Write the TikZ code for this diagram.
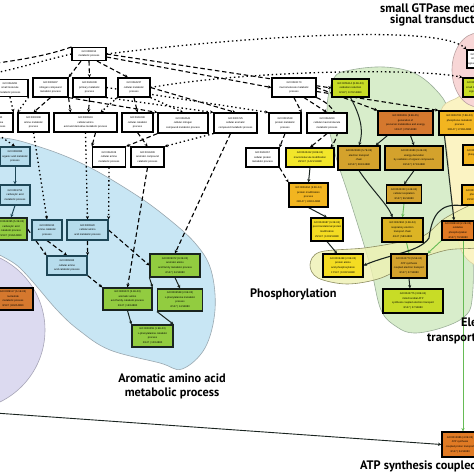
\documentclass[tikz,border=0pt]{standalone}
\usepackage{fontspec}
\setmainfont{Liberation Sans}
\newfontfamily\labfont{PT Sans}
\usetikzlibrary{arrows.meta}
\definecolor{bluebg}{HTML}{C8E6F4}
\definecolor{blueedge}{HTML}{9AA8B0}
\definecolor{bluebox}{HTML}{B6DCEC}
\definecolor{greenbg}{HTML}{D8EDCB}
\definecolor{greenedge}{HTML}{9AAE98}
\definecolor{pinkbg}{HTML}{F8D6D6}
\definecolor{pinkedge}{HTML}{B8A0A0}
\definecolor{yelbg}{HTML}{FBF3C3}
\definecolor{yeledge}{HTML}{D8D0A0}
\definecolor{bandbg}{HTML}{EEF1B2}
\definecolor{bandedge}{HTML}{8C8C60}
\definecolor{purbg}{HTML}{DCDAF0}
\definecolor{puredge}{HTML}{A8A6B8}
\definecolor{cgreen}{HTML}{92CC40}
\definecolor{cyellow}{HTML}{F2E62A}
\definecolor{cyel2}{HTML}{F4DC22}
\definecolor{corange}{HTML}{F2B520}
\definecolor{cbrown}{HTML}{D5782E}
\definecolor{cochre}{HTML}{D4A22C}
\definecolor{cochre2}{HTML}{DCB424}
\definecolor{cyg}{HTML}{C8DC26}
\definecolor{cdeep}{HTML}{E07A24}
\definecolor{tealc}{HTML}{1E4656}
\definecolor{lgreen}{HTML}{66BB55}
\definecolor{darkc}{HTML}{1A2420}
\newcommand*\bxf{\fontsize{2.6}{4.6}\selectfont}
\pgfdeclarelayer{bg}\pgfdeclarelayer{edges}\pgfsetlayers{bg,edges,main}
\tikzset{
  gob/.style={draw=black, line width=1.15pt, fill=white, align=center, inner sep=0.3pt, font=\bxf},
  bbox/.style={gob, draw=tealc, fill=bluebox},
  gbox/.style={gob, draw=darkc, fill=cgreen},
  sz/.style n args={2}{minimum width=#1pt, minimum height=#2pt},
  tip/.style={-{Stealth[length=3.4pt,width=3.2pt]}},
  dsh/.style={draw=black, line width=1.1pt, dash pattern=on 4.5pt off 2.8pt, tip},
  dot/.style={draw=black, line width=1.3pt, dash pattern=on 1.4pt off 2.8pt, tip},
  sol/.style={draw=darkc, line width=1pt, tip},
  grn/.style={draw=lgreen, line width=0.9pt, tip},
  lab/.style={font=\labfont\bfseries\fontsize{12.3}{13.5}\selectfont, inner sep=0pt, align=center}
}
\begin{document}
\begin{tikzpicture}[x=1pt,y=-1pt]
\useasboundingbox (0,0) rectangle (474,474);
\clip (0,0) rectangle (474,474);
% ---------- blobs ----------
\begin{pgfonlayer}{bg}
\fill[white] (0,0) rectangle (474,474);
\filldraw[fill=purbg, draw=puredge, line width=0.6pt] (-35,330) circle [radius=80pt];
\filldraw[fill=bluebg, draw=blueedge, line width=0.6pt] plot[smooth cycle, tension=0.6] coordinates {(-30,150) (0,138) (43,148) (87,166) (133,193) (165,216) (195,243) (211,270) (215,310) (205,348) (182,369) (160,363) (110,350) (80,331) (57,310) (20,268) (-20,235)};
\filldraw[fill=greenbg, draw=greenedge, line width=0.6pt] plot[smooth cycle, tension=0.6] coordinates {(334,150) (327,110) (334,78) (351,70) (384,67) (414,73) (436,90) (448,110) (452,150) (458,200) (472,250) (472,300) (464,317) (441,328) (414,333) (397,327) (381,310) (370,265) (350,200)};
\filldraw[fill=yelbg, draw=yeledge, line width=0.6pt] plot[smooth cycle, tension=0.6] coordinates {(441,112) (455,99) (485,94) (495,200) (485,262) (462,252) (452,200) (447,150)};
\filldraw[fill=pinkbg, draw=pinkedge, line width=0.6pt] (478,70) ellipse [x radius=26pt, y radius=37pt];
\filldraw[fill=bandbg, fill opacity=0.8, draw=bandedge, line width=0.6pt] plot[smooth cycle, tension=0.55] coordinates {(310,265) (320,252) (364,248) (400,242) (425,235) (447,217) (485,201) (490,225) (485,246) (447,250) (414,261) (381,278) (347,284) (318,278)};
\end{pgfonlayer}
% ---------- nodes ----------
\node[gob,sz={34}{13}] (m1) at (89,54) {GO:0008152\\metabolic process};
\node[gob,sz={36}{17}] (a1) at (10,88) {GO:0044281\\small molecule\\metabolic process};
\node[gob,sz={35}{19}] (a2) at (50.5,87.5) {GO:0006807\\nitrogen compound\\metabolic process};
\node[gob,sz={33}{19}] (a3) at (89.5,87.5) {GO:0044238\\primary metabolic\\process};
\node[gob,sz={32}{19}] (a4) at (134,87.5) {GO:0044237\\cellular metabolic\\process};
\node[gob,sz={44}{19}] (a5) at (294,87.5) {GO:0043170\\macromolecule metabolic\\process};
\node[gob,fill=cyg,sz={37}{18}] (ox) at (350.5,88) {GO:0055114 (8.0E-03)\\oxidation reduction\\8/147 | 1170/14880};
\node[gob,fill=cbrown,sz={55}{24}] (gen) at (405.5,123) {GO:0006091 (6.9E-05)\\generation of\\precursor metabolites and energy\\10/147 | 378/14880};
\node[gob,fill=corange,sz={41}{24}] (pho) at (459.5,123) {GO:0006793 (7.8E-03)\\phosphorus metabolic\\process\\30/147 | 1736/14880};
\node[gob,fill=cyg,sz={34}{19}] (tr) at (480,87.5) {GO:0007264 (4.2E-03)\\small GTPase mediated\\signal transduction};
\node[gob,sz={22}{18}] (tw) at (478,59) {GO:0007242\\intracellular\\signaling cascade};
% row 2
\node[gob,sz={36}{19}] (b0) at (-5,122.5) {GO:0042180\\cellular ketone\\metabolic process};
\node[gob,sz={31}{19}] (b1) at (33.5,122.5) {GO:0009308\\amine metabolic\\process};
\node[gob,sz={63}{19}] (b2) at (85.5,122.5) {GO:0006519\\cellular amino\\acid and derivative metabolic process};
\node[gob,sz={31}{19}] (b3) at (137.5,122.5) {GO:0044248\\cellular catabolic\\process};
\node[gob,sz={50}{20}] (b4) at (183,123) {GO:0034641\\cellular nitrogen\\compound metabolic process};
\node[gob,sz={43}{20}] (b5) at (235.5,123) {GO:0006725\\cellular aromatic\\compound metabolic process};
\node[gob,sz={32}{20}] (b6) at (285,123) {GO:0019538\\protein metabolic\\process};
\node[gob,sz={40}{20}] (b7) at (327,123) {GO:0044260\\cellular macromolecule\\metabolic process};
% row 3
\node[bbox,sz={30}{19}] (c0) at (15,156.5) {GO:0006082\\organic acid metabolic\\process};
\node[gob,sz={33}{20}] (c1) at (109,157) {GO:0044106\\cellular amine\\metabolic process};
\node[gob,sz={33}{20}] (c2) at (147.5,157) {GO:0019439\\aromatic compound\\catabolic process};
\node[gob,sz={33}{19}] (c3) at (262.5,157.5) {GO:0044267\\cellular protein\\metabolic process};
\node[gob,fill=cyellow,sz={48}{19}] (c4) at (310,157.5) {GO:0043412 (8.8E-04)\\macromolecule modification\\28/147 | 1421/14880};
\node[gob,fill=cochre,sz={42}{24}] (c5) at (359,158) {GO:0022900 (5.7E-06)\\electron transport\\chain\\12/147 | 381/14880};
\node[gob,fill=cochre,sz={58}{24}] (c6) at (414,158) {GO:0015980 (9.4E-05)\\energy derivation\\by oxidation of organic compounds\\10/147 | 371/14880};
\node[gob,fill=corange,sz={34}{20}] (c7) at (480,155) {GO:0006796 (9.1E-03)\\phosphate metabolic\\process};
% row 4
\node[bbox,sz={30}{20}] (d0) at (15,195) {GO:0019752\\carboxylic acid\\metabolic process};
\node[gob,fill=corange,sz={39}{24}] (d1) at (308.5,195) {GO:0006464 (6.5E-04)\\protein modification\\process\\28/147 | 1381/14880};
\node[gob,fill=cochre,sz={35}{18}] (d2) at (404,194) {GO:0045333 (4.4E-04)\\cellular respiration\\3/147 | 96/14880};
\node[gob,fill=corange,sz={34}{20}] (d3) at (479,195) {GO:0016310 (8.0E-03)\\phosphorylation\\22/147 | 1247/14880};
% row 5
\node[gob,fill=cdeep,sz={32}{19}] (e0) at (458,230.5) {GO:0006119 (2.2E-03)\\oxidative\\phosphorylation\\4/147 | 79/14880};
\node[gob,fill=cyel2,sz={32}{23}] (e1) at (327,229.5) {GO:0043687 (6.3E-04)\\post-translational protein\\modification\\25/147 | 1203/14880};
\node[gob,fill=cochre2,sz={41}{24}] (e2) at (402.5,230) {GO:0022904 (1.3E-04)\\respiratory electron\\transport chain\\4/147 | 58/14880};
% row 6
\node[gob,fill=cyel2,sz={40}{23}] (f1) at (343,265.5) {GO:0006468 (2.9E-03)\\protein amino\\acid phosphorylation\\17/147 | 1030/14880};
\node[gob,fill=cochre,sz={36}{24}] (f2) at (409,266) {GO:0042773 (5.5E-04)\\ATP synthesis\\coupled electron transport\\3/147 | 37/14880};
% row 7
\node[gob,fill=cyg,sz={60}{24}] (g1) at (413,301) {GO:0042775 (3.8E-04)\\mitochondrial ATP\\synthesis coupled electron transport\\3/147 | 37/14880};
\node[gob,fill=cdeep,sz={36}{25}] (h1) at (460,444.5) {GO:0015986 (4.0E-03)\\ATP synthesis\\coupled proton transport\\3/147 | 54/14880};
% left cluster
\node[gob,fill=cgreen,draw=darkc,sz={32}{22}] (l1) at (11,229) {GO:0046395 (5.3E-03)\\carboxylic acid\\catabolic process\\5/147 | 156/14880};
\node[bbox,sz={30}{20}] (l2) at (47,230) {GO:0009310\\amine catabolic\\process};
\node[bbox,sz={41}{20}] (l3) at (87.5,230) {GO:0006520\\cellular amino\\acid metabolic process};
\node[bbox,sz={40}{19}] (l4) at (67,265.5) {GO:0009063\\cellular amino\\acid catabolic process};
\node[gbox,sz={50}{23}] (l5) at (175,265.5) {GO:0009072 (8.3E-03)\\aromatic amino\\acid family metabolic process\\2/147 | 34/14880};
\node[gbox,sz={49}{22}] (l6) at (127.5,299) {GO:0009074 (5.1E-03)\\aromatic amino\\acid family catabolic process\\2/147 | 16/14880};
\node[gbox,sz={45}{22}] (l7) at (180,300) {GO:0006558 (2.6E-03)\\L-phenylalanine metabolic\\process\\2/147 | 14/14880};
\node[gbox,sz={41}{22}] (l8) at (152.5,336) {GO:0006559 (1.9E-03)\\L-phenylalanine catabolic\\process\\2/147 | 10/14880};
\node[gob,fill=cbrown,sz={40}{22}] (l9) at (13,299) {GO:0009117 (6.1E-03)\\nucleotide\\metabolic process\\8/147 | 402/14880};
% ---------- connectors ----------
\begin{pgfonlayer}{edges}
\coordinate (offl1) at (-10,74);
\coordinate (offl2) at (-10,64);
\coordinate (offb) at (-5,413);
\draw[dsh] (m1.south) -- (a3.north);
\draw[dsh] ([xshift=-8pt]m1.south) -- (a2.north east);
\draw[dsh] ([xshift=8pt]m1.south) -- ([xshift=-6pt]a4.north);
\draw[dot] (m1.west) .. controls (45,60) and (20,68) .. (offl1);
\draw[dsh] (m1.north west) .. controls (50,55) and (20,60) .. (offl2);
\draw[dot] (m1.east) .. controls (250,36) and (440,24) .. (tw.north west);
\draw[dsh] (m1.east) -- (ox.west);
\draw[dsh] ([yshift=-3pt]m1.east) -- (a5.west);
\draw[dot] (a4.east) .. controls (250,70) and (420,68) .. (tr.north west);
\draw[dsh] (a5.east) -- (gen.north west);
\draw[dsh] ([yshift=-4pt]a5.east) -- (pho.north west);
\draw[dsh] (a5.south east) .. controls (345,110) and (340,135) .. ([xshift=-4pt]c4.north east);
\draw[dsh] (a2.south) -- (b1.north);
\draw[dsh] (a2.south east) -- ([xshift=-15pt]b2.north);
\draw[dsh] (a3.south) -- ([xshift=3pt]b2.north);
\draw[dsh] (a4.south) -- (b3.north);
\draw[dot] (a4.south west) -- ([xshift=15pt]b2.north);
\draw[dot] (a1.south) -- (b0.north east);
\draw[dot] (a1.south east) -- (b1.north west);
\draw[dot] (a4.south east) -- (b4.north);
\draw[dot] (a3.south east) -- (b5.north west);
\draw[dsh] (a2.south east) -- (b4.north west);
\draw[dot] (a3.east) -- (b6.north west);
\draw[dsh] (a4.east) -- (b5.north);
\draw[dsh] (a5.south) -- (b6.north east);
\draw[dsh] ([xshift=10pt]a5.south) -- (b7.north);
\draw[dsh] ([xshift=10pt]b2.south) -- (c1.north west);
\draw[dsh] (b3.south) -- (c2.north);
\draw[dsh] (b4.south west) -- (c1.north east);
\draw[dot] (b5.south west) -- (c2.north east);
\draw[dsh] (b6.south) -- (c3.north east);
\draw[dsh] (b7.south) -- (c4.north);
\draw[dot] (b0.south) -- (c0.north);
\draw[dot] (b2.south) -- (l3.north);
\draw[dot] (b1.south) -- (l2.north);
\draw[dot] (c1.south) -- (l3.north east);
\draw[dsh] (c2.south) -- (l6.north);
\draw[dsh] ([xshift=-5pt]b5.south) -- (l5.north);
\draw[dsh] (c3.south east) -- (d1.north west);
\draw[sol] (c4.south) -- (d1.north);
\draw[sol,draw=tealc] (c0.south) -- (d0.north);
\draw[sol,draw=tealc] (d0.south) -- (l1.north);
\draw[dsh] (l1.east) -- (l4.north west);
\draw[dsh] (l2.south) -- (l4.north);
\draw[dsh] (l3.south) -- (l4.north east);
\draw[dsh] (l3.east) -- (l5.west);
\draw[dsh] (l4.south east) -- (l6.north west);
\draw[sol] (l5.south west) -- (l6.north east);
\draw[sol] (l5.south) -- (l7.north);
\draw[sol] (l6.south) -- (l8.north west);
\draw[sol] (l7.south west) -- (l8.north east);
\draw[sol,line width=0.9pt] (offb) -- (h1.west);
\draw[sol] (ox.south) .. controls (360,115) and (364,130) .. (c5.north);
\draw[sol] ([xshift=10pt]gen.south west) -- ([xshift=-5pt]c5.north east);
\draw[sol] ([xshift=5pt]gen.south) -- (c6.north);
\draw[sol] (c6.south) -- (d2.north);
\draw[sol] (c5.south) .. controls (372,190) and (388,205) .. ([xshift=-10pt]e2.north);
\draw[grn] (d2.south) -- (e2.north);
\draw[grn] ([xshift=4pt]e2.south) -- (f2.north);
\draw[sol] (f2.south) -- ([xshift=-3pt]g1.north);
\draw[grn] (e0.south west) -- (f2.north east);
\draw[grn] ([xshift=5pt]e0.south) -- ([xshift=3pt]h1.north);
\draw[sol] ([xshift=6pt]pho.south west) -- ([xshift=-4pt]e0.north);
\draw[sol,line width=1.1pt] (d3.south west) .. controls (440,203) and (432,215) .. (429,238) .. controls (420,252) and (390,254) .. (f1.east);
\draw[sol] (d1.south) -- (e1.north);
\draw[sol] (e1.south) -- ([xshift=-6pt]f1.north);
\draw[sol] (c7.south) -- (d3.north);
\end{pgfonlayer}
% ---------- labels ----------
\node[lab,anchor=west] (t1) at (380,8) {small GTPase mediated};
\node[lab,anchor=west] (t2) at (390,20) {signal transduction};
\node[lab,anchor=west] (t3) at (250,294) {Phosphorylation};
\node[lab] (t4) at (172,386.5) {Aromatic amino acid\\metabolic process};
\node[lab,anchor=west] (t5) at (461,322) {Electron};
\node[lab,anchor=west] (t6) at (427,338) {transport chain};
\node[lab,anchor=west] (t7) at (360,466) {ATP synthesis coupled proton transport};
\end{tikzpicture}
\end{document}
